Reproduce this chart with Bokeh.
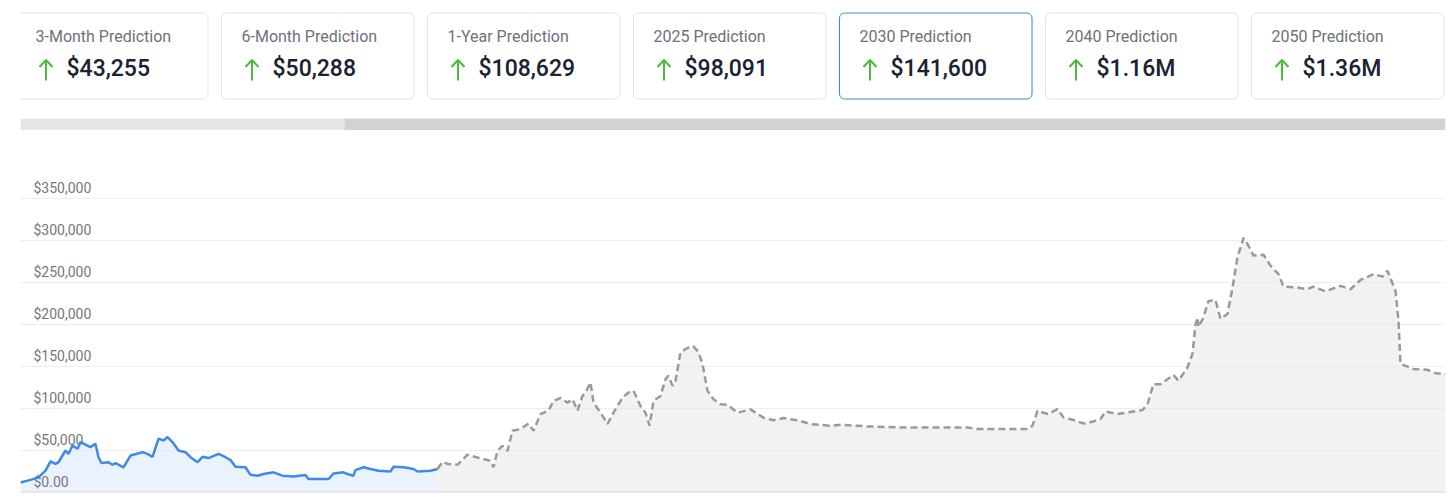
from bokeh.plotting import figure
from bokeh.layouts import column
from bokeh.models import Range1d, Grid, FixedTicker, Span
from bokeh.core.properties import value
from bokeh.embed import file_html
from bokeh.resources import INLINE

# ---------------- data ----------------
card_titles = ["3-Month Prediction", "6-Month Prediction", "1-Year Prediction",
               "2025 Prediction", "2030 Prediction", "2040 Prediction", "2050 Prediction"]
card_values = ["$43,255", "$50,288", "$108,629", "$98,091", "$141,600", "$1.16M", "$1.36M"]
selected_card = "2030 Prediction"

y_ticks = [0, 50000, 100000, 150000, 200000, 250000, 300000, 350000]
y_tick_labels = ["$0.00", "$50,000", "$100,000", "$150,000", "$200,000",
                 "$250,000", "$300,000", "$350,000"]

# historical prices (time index, USD)
hist_t = [0, 10, 18, 25, 30, 35, 38, 45, 48, 52, 57, 60, 65, 70, 75, 78, 81, 88, 92, 95,
          103, 110, 122, 127, 132, 138, 143, 147, 152, 158, 165, 170, 177, 182, 188, 198,
          205, 210, 215, 225, 230, 237, 243, 253, 262, 273, 285, 288, 300, 308, 313, 323,
          327, 333, 335, 343, 350, 358, 370, 373, 383, 393, 397, 410, 417]
hist_price = [12000, 15000, 18000, 26000, 37000, 34000, 36000, 50000, 46000, 56000, 52000,
              60000, 57000, 54000, 58000, 42000, 35000, 36000, 33000, 35000, 30000, 44000,
              48000, 46000, 42500, 64000, 62000, 66000, 60000, 50000, 48000, 42000, 36000,
              42500, 41000, 46000, 42000, 38600, 30600, 30000, 21000, 20000, 22000, 24000,
              20000, 19000, 20700, 16000, 16000, 16000, 22600, 24000, 22000, 20000, 26700,
              30000, 28000, 26000, 25000, 30600, 30000, 28000, 25000, 26000, 28000]

# forecast prices (time index, USD)
fc_t = [417, 422, 427, 437, 447, 457, 470, 473, 477, 482, 487, 492, 500, 508, 513, 520,
        528, 533, 540, 547, 552, 557, 562, 565, 570, 573, 580, 587, 593, 602, 608, 613,
        620, 625, 629, 633, 640, 645, 648, 652, 655, 660, 667, 673, 678, 682, 687, 693,
        700, 707, 717, 730, 743, 753, 763, 777, 790, 810, 820, 847, 880, 947, 957, 1007,
        1012, 1017, 1022, 1028, 1037, 1043, 1053, 1063, 1073, 1080, 1085, 1097, 1113, 1122,
        1127, 1133, 1140, 1153, 1158, 1167, 1172, 1175, 1177, 1178, 1183, 1188, 1195, 1200,
        1207, 1212, 1217, 1223, 1227, 1233, 1243, 1250, 1258, 1263, 1277, 1287, 1293, 1305,
        1320, 1330, 1340, 1353, 1362, 1367, 1375, 1378, 1380, 1393, 1407, 1415, 1425]
fc_price = [28000, 36600, 34000, 33000, 45000, 41700, 37800, 30000, 49700, 55600, 49700,
            73500, 75500, 82000, 73500, 93400, 97400, 109000, 112500, 107000, 111000, 97400,
            115000, 119000, 131000, 107000, 95000, 81500, 95000, 113000, 119000, 121000,
            103000, 95000, 79500, 109000, 115000, 135000, 139000, 127000, 133000, 167000,
            172000, 174000, 167000, 153000, 121000, 111000, 105000, 104500, 95000, 99000,
            89000, 86000, 88600, 86000, 81500, 79500, 80700, 78700, 77500, 77500, 75500,
            75500, 79500, 97400, 95300, 93400, 99400, 89400, 86300, 82200, 84600, 87500,
            96500, 93400, 96500, 98200, 105000, 129000, 129000, 140000, 133000, 149000,
            165000, 200000, 208500, 197000, 208500, 228000, 229000, 206600, 212600, 244000,
            280000, 303000, 296000, 282000, 283000, 270000, 260000, 245000, 244000, 242000,
            245000, 239500, 246000, 242000, 253000, 260000, 257000, 264000, 240000, 204600,
            153000, 147000, 146000, 142000, 141000]

# ---------------- layout constants ----------------
W = 1455
FONT = value("Roboto")
FONT_MED = value("Roboto Medium, Roboto")

# ---------------- prediction cards ----------------
cards = figure(width=W, height=135, x_range=Range1d(20, 1445), y_range=Range1d(135, 0),
               output_backend="svg", toolbar_location=None,
               x_axis_type=None, y_axis_type=None,
               min_border_left=20, min_border_right=10, min_border_top=0, min_border_bottom=0,
               outline_line_color=None, background_fill_color="white", border_fill_color="white")

n = len(card_titles)
pitch, cw = 206.0, 192.5
lefts = [15 + pitch * i for i in range(n)]
rights = [l + cw for l in lefts]
border_cols = ["#3d86dc" if t == selected_card else "#e1e3e8" for t in card_titles]

cards.quad(left=lefts, right=rights, top=[12.5] * n, bottom=[98.5] * n,
           fill_color="white", line_color=border_cols, line_width=1, border_radius=5)

cards.text(x=[l + 20 for l in lefts], y=[36] * n, text=card_titles,
           text_font=FONT, text_font_size="16px", text_color="#6d717a",
           text_baseline="middle", text_align="left")
cards.text(x=[l + 51 for l in lefts], y=[68] * n, text=card_values,
           text_font=FONT_MED, text_font_size="23px",
           text_color="#1b2232", text_baseline="middle", text_align="left")

# green up arrows
ax = [l + 30.5 for l in lefts]
cards.segment(x0=ax, y0=[80] * n, x1=ax, y1=[59.5] * n, line_color="#4cbb3c", line_width=2)
cards.multi_line(xs=[[a - 6.5, a, a + 6.5] for a in ax], ys=[[66.5, 59.5, 66.5]] * n,
                 line_color="#4cbb3c", line_width=2)

# scroll bar
cards.quad(left=[20, 344], right=[344, 1445], top=[118, 118], bottom=[129.5, 129.5],
           fill_color=["#e4e5e9", "#d1d2d6"], line_color=None)

# ---------------- price chart ----------------
chart = figure(width=W, height=359, x_range=Range1d(0, 1425), y_range=Range1d(0, 425000),
               output_backend="svg", toolbar_location=None,
               x_axis_type=None, y_axis_type=None,
               min_border_left=20, min_border_right=10, min_border_top=0, min_border_bottom=2,
               outline_line_color=None, background_fill_color="white", border_fill_color="white")
chart.add_layout(Grid(dimension=1, ticker=FixedTicker(ticks=y_ticks),
                      grid_line_color="#eeeeee", grid_line_width=1))

chart.varea(x=hist_t, y1=0, y2=hist_price, fill_color="#d6e6fb", fill_alpha=0.5)
chart.varea(x=fc_t, y1=0, y2=fc_price, fill_color="#e6e6e6", fill_alpha=0.5)
chart.add_layout(Span(location=0, dimension="width", line_color="#d9d9d9", line_width=2))

chart.text(x=[0] * len(y_ticks), y=y_ticks, text=y_tick_labels, x_offset=13, y_offset=-3,
           text_font=FONT, text_font_size="14px", text_color="#777777",
           text_baseline="bottom", text_align="left")

chart.line(hist_t, hist_price, line_color="#3d8be4", line_width=2.5)
chart.line(fc_t, fc_price, line_color="#9a9a9a", line_width=2.5, line_dash="7 4")

layout = column(cards, chart, spacing=0)
open("out.html", "w").write(file_html(layout, INLINE))
